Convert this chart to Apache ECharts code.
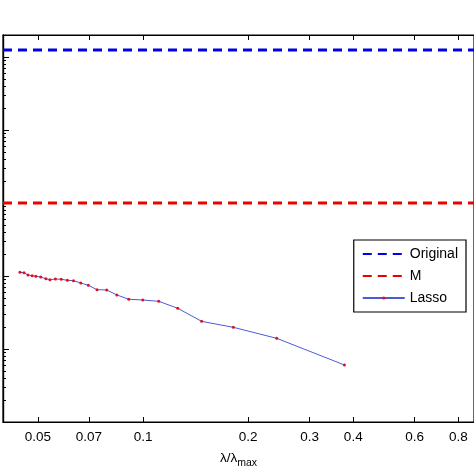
<!DOCTYPE html><html><head><meta charset="utf-8"><script src="https://cdn.jsdelivr.net/npm/echarts@6/dist/echarts.min.js"></script>
<style>html,body{margin:0;padding:0;background:#fff}#c{width:474px;height:474px}</style></head><body><div id="c"></div><script>
const lassoX=[0.0444,0.0456,0.0468,0.0481,0.0493,0.0509,0.0527,0.0541,0.0561,0.0583,0.0607,0.0632,0.0663,0.0697,0.0738,0.0787,0.0841,0.0910,0.0998,0.1109,0.1257,0.1472,0.1814,0.2415,0.3774];
const lassoY=[112.4,111,103,101,99,96.9,91.8,89,91,90.1,87.3,86.2,80.2,74.6,64.9,64.3,55,48,46.9,45,36.1,23.9,19.8,14,6.04];
const originalY=1.25e5;
const mY=1000;
const xTicks=[0.05,0.07,0.1,0.2,0.3,0.4,0.6,0.8];
const xMin=0.0397,xMax=0.887,yMin=1,yMax=2e5;
const yMajor=[1,10,100,1000,1e4,1e5];
const yMinor=[];for(const d of yMajor)for(let k=2;k<=9;k++){if(d*k<yMax)yMinor.push(d*k);}
const font='"Liberation Sans", Arial, sans-serif';
const chart=echarts.init(document.getElementById('c'));
const xa=(show,pos)=>({type:'log',position:pos,min:xMin,max:xMax,logBase:10,
 axisLine:{show:true,onZero:false,lineStyle:{color:'#000',width:1.2}},
 axisTick:{inside:true,length:5,customValues:xTicks,lineStyle:{color:'#000'}},
 axisLabel:{show:show,customValues:xTicks,formatter:v=>String(+v.toFixed(2)),color:'#000',fontFamily:font,fontSize:13.5,margin:8},
 splitLine:{show:false},
 name:show?'{a|λ/λ}{b|max}':'',nameLocation:'middle',nameGap:25,
 nameTextStyle:{rich:{a:{fontFamily:font,fontSize:13.5,color:'#000'},b:{fontFamily:font,fontSize:10.5,color:'#000',padding:[11,0,0,0]}}}});
const ya=(ticks,len)=>({type:'log',position:'left',min:yMin,max:yMax,logBase:10,
 axisLine:{show:true,onZero:false,lineStyle:{color:'#000',width:1.2}},
 axisTick:{inside:true,length:len,customValues:ticks,lineStyle:{color:'#000'}},
 axisLabel:{show:false},splitLine:{show:false}});
chart.setOption({animation:false,
 grid:{left:3,right:0,top:35,bottom:52,show:true,borderColor:'#000',borderWidth:1.2},
 xAxis:[xa(true,'bottom'),xa(false,'top')],
 yAxis:[ya(yMajor,6),ya(yMinor,3)],
 legend:{orient:'vertical',right:8,top:240,itemWidth:42,itemHeight:4,itemGap:8,padding:[7,8,7,8],
  borderColor:'#000',borderWidth:1.2,backgroundColor:'#fff',
  textStyle:{fontFamily:font,fontSize:14,color:'#000'},
  data:[{name:'Original',itemStyle:{opacity:0}},{name:'M',itemStyle:{opacity:0}},{name:'Lasso'}]},
 series:[
  {name:'Original',type:'line',showSymbol:false,symbol:'none',data:[[xMin,originalY],[xMax,originalY]],lineStyle:{color:'#0000ee',width:3,type:[9,6]},itemStyle:{color:'#0000ee'}},
  {name:'M',type:'line',showSymbol:false,symbol:'none',data:[[xMin,mY],[xMax,mY]],lineStyle:{color:'#ee0000',width:3,type:[9,6]},itemStyle:{color:'#ee0000'}},
  {name:'Lasso',type:'line',symbol:'circle',symbolSize:3,data:lassoX.map((x,i)=>[x,lassoY[i]]),lineStyle:{color:'#4a5ad8',width:1},itemStyle:{color:'#dd1122'}}
 ]});
</script></body></html>
